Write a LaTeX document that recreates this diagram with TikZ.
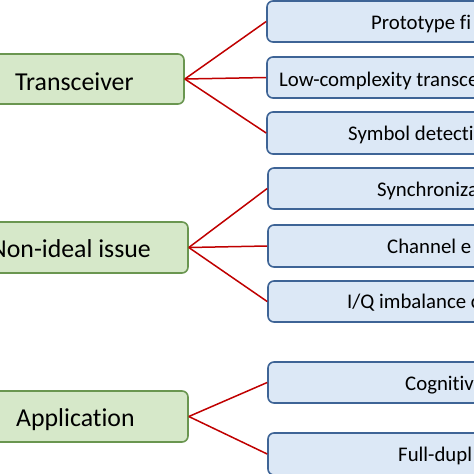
\documentclass[tikz,border=0pt]{standalone}
\usepackage{fontspec}
\setmainfont[Ligatures={NoCommon}]{Carlito}
\definecolor{gfill}{RGB}{214,232,201}
\definecolor{gdraw}{RGB}{106,150,80}
\definecolor{bfill}{RGB}{220,232,246}
\definecolor{bdraw}{RGB}{62,100,150}
\definecolor{lred}{RGB}{192,0,0}
\tikzset{
  catbox/.style={draw=gdraw, fill=gfill, line width=1.6pt, rounded corners=6pt},
  subbox/.style={draw=bdraw, fill=bfill, line width=1.6pt, rounded corners=6pt},
  cattext/.style={anchor=base west, inner sep=0pt, font=\fontsize{25.8}{30}\selectfont},
  subtext/.style={anchor=base west, inner sep=0pt, font=\fontsize{20.8}{24}\selectfont},
  link/.style={draw=lred, line width=1.5pt},
}
\begin{document}
\begin{tikzpicture}[x=1pt,y=-1pt]
\useasboundingbox (0,0) rectangle (474,474);
\clip (0,0) rectangle (474,474);
\fill[white] (0,0) rectangle (474,474);
% category boxes
\node[catbox, minimum width=204pt, minimum height=50pt] (g1) at (82,79) {};
\node[catbox, minimum width=208pt, minimum height=51pt] (g2) at (84,247.5) {};
\node[catbox, minimum width=208pt, minimum height=51pt] (g3) at (84,416.5) {};
% sub boxes
\node[subbox, minimum width=260pt, minimum height=41pt] (s1) at (397,21.5) {};
\node[subbox, minimum width=260pt, minimum height=41pt] (s2) at (397,77.5) {};
\node[subbox, minimum width=260pt, minimum height=42pt] (s3) at (397,133) {};
\node[subbox, minimum width=260pt, minimum height=41pt] (s4) at (398,188.5) {};
\node[subbox, minimum width=260pt, minimum height=42pt] (s5) at (398,246) {};
\node[subbox, minimum width=260pt, minimum height=41pt] (s6) at (398,301.5) {};
\node[subbox, minimum width=260pt, minimum height=41pt] (s7) at (398,382.5) {};
\node[subbox, minimum width=260pt, minimum height=42pt] (s8) at (398,454) {};
% connectors
\foreach \s in {s1,s2,s3} \draw[link] (g1.east) -- (\s.west);
\foreach \s in {s4,s5,s6} \draw[link] (g2.east) -- (\s.west);
\foreach \s in {s7,s8} \draw[link] (g3.east) -- (\s.west);
% texts
\node[cattext] (t1) at (15,90) {Transceiver};
\node[cattext] (t2) at (-10,257) {Non-ideal issue};
\node[cattext] (t3) at (16,426) {Application};
\node[subtext] (u1) at (371,29) {Prototype fi};
\node[subtext] (u2) at (279,86) {Low-complexity transce};
\node[subtext] (u3) at (348,140) {Symbol detecti};
\node[subtext] (u4) at (377,196) {Synchroniza};
\node[subtext] (u5) at (387,253.5) {Channel e};
\node[subtext] (u6) at (347,308.5) {I/Q imbalance c};
\node[subtext] (u7) at (405,390) {Cognitiv};
\node[subtext] (u8) at (398,461) {Full-dupl};
\end{tikzpicture}
\end{document}
